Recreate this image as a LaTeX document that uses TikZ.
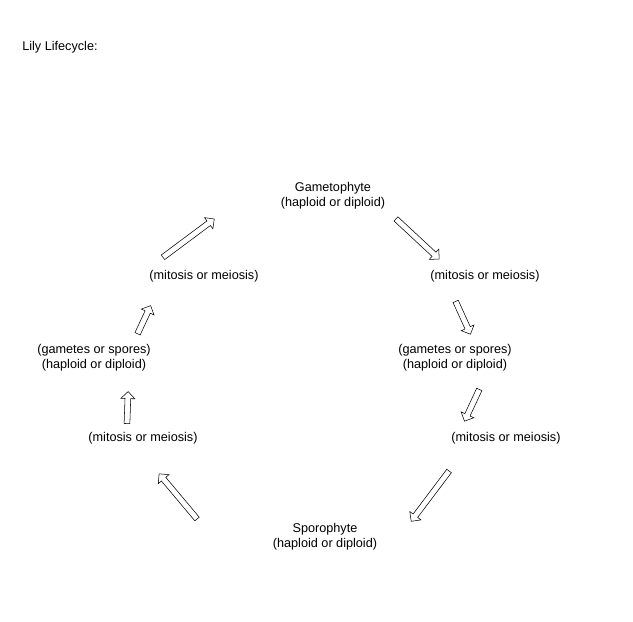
\documentclass[tikz,border=0pt]{standalone}
\usepackage{fontspec}
\setmainfont{Liberation Sans}
\usetikzlibrary{shapes.arrows}
\tikzset{%
  stage/.style={align=center, font=\fontsize{9.5}{11.5}\selectfont, inner sep=0pt},
  step/.style={single arrow, draw, thin, fill=white, minimum width=10.5pt,
    single arrow head extend=2.6pt, inner sep=1.6pt, minimum height=#1*0.75pt, anchor=center},
}
\begin{document}
\begin{tikzpicture}[x=0.75pt,y=-0.75pt]
\useasboundingbox (0,0) rectangle (633,622);
\node [stage, anchor=west] (title) at (22,47) {Lily Lifecycle:};
\node [stage] (gam) at (333,196) {Gametophyte\\(haploid or diploid)};
\node [stage] (mlu) at (204,276) {(mitosis or meiosis)};
\node [stage] (mru) at (485,276) {(mitosis or meiosis)};
\node [stage] (gl) at (94,358) {(gametes or spores)\\(haploid or diploid)};
\node [stage] (gr) at (455,358) {(gametes or spores)\\(haploid or diploid)};
\node [stage] (mll) at (143,438) {(mitosis or meiosis)};
\node [stage] (mrl) at (506,438) {(mitosis or meiosis)};
\node [stage] (spo) at (325,537) {Sporophyte\\(haploid or diploid)};
% arrows round the cycle
\node [step=64, rotate=36.7] (a1) at (187.5,239) {};
\node [step=59, rotate=-42.9] (a2) at (416.5,238) {};
\node [step=31, rotate=65] (a3) at (143.5,321) {};
\node [step=36, rotate=-65.6] (a4) at (462.5,316.5) {};
\node [step=32, rotate=88] (a5) at (127.5,409) {};
\node [step=35, rotate=-115] (a6) at (472.5,404) {};
\node [step=59, rotate=130] (a7) at (179,497.5) {};
\node [step=63, rotate=-127] (a8) at (431,495) {};
\end{tikzpicture}
\end{document}
